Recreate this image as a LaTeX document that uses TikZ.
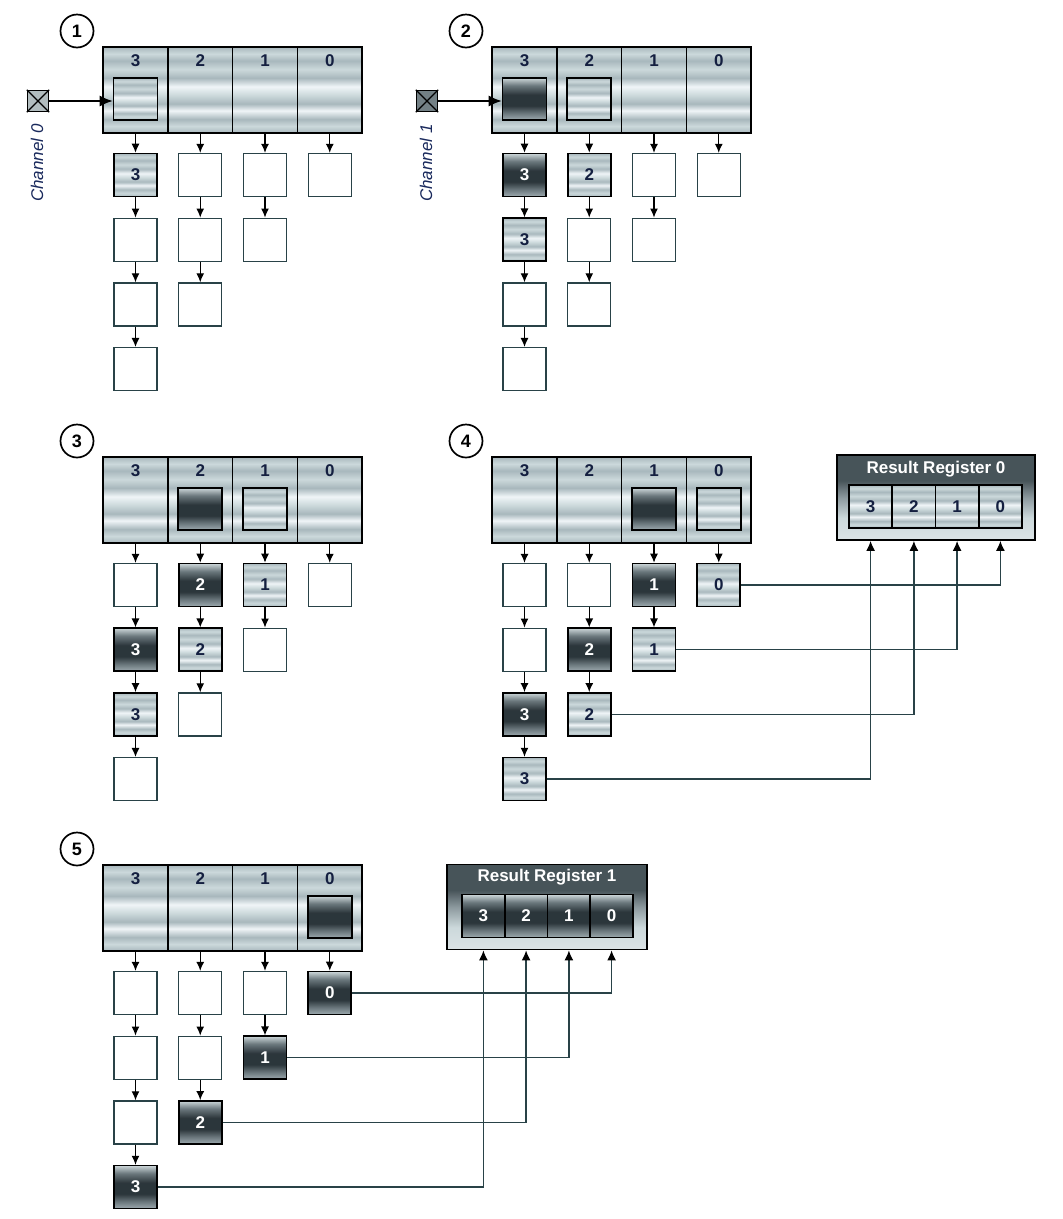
\documentclass[tikz,border=0pt]{standalone}
\usepackage{fontspec}
\setmainfont{Liberation Sans}
\usetikzlibrary{arrows.meta}
\definecolor{mA}{rgb}{0.66,0.72,0.74}
\definecolor{mB}{rgb}{0.80,0.85,0.86}
\definecolor{mC}{rgb}{0.94,0.96,0.97}
\definecolor{dA}{rgb}{0.62,0.67,0.69}
\definecolor{dB}{rgb}{0.17,0.21,0.23}
\definecolor{dM}{rgb}{0.42,0.47,0.49}
\definecolor{dC}{rgb}{0.80,0.84,0.85}
\definecolor{rT}{rgb}{0.28,0.33,0.35}
\definecolor{rM}{rgb}{0.55,0.60,0.62}
\definecolor{rL}{rgb}{0.86,0.89,0.90}
\definecolor{navy}{rgb}{0.08,0.12,0.25}
\definecolor{chanC}{rgb}{0.10,0.16,0.36}
\definecolor{lineC}{rgb}{0.16,0.26,0.28}
\definecolor{chanA}{rgb}{0.70,0.74,0.75}
\definecolor{chanB}{rgb}{0.45,0.50,0.52}
\pgfdeclareverticalshading{metal}{100bp}{color(0bp)=(mA); color(25bp)=(mA); color(29bp)=(mB); color(33bp)=(mA); color(38bp)=(mC); color(42bp)=(mA); color(47bp)=(mB); color(52bp)=(mC); color(57bp)=(mA); color(62bp)=(mB); color(67bp)=(mA); color(71bp)=(mB); color(75bp)=(mA); color(100bp)=(mA)}
\pgfdeclareverticalshading{darkmetal}{100bp}{color(0bp)=(dA); color(25bp)=(dA); color(33bp)=(dM); color(42bp)=(dB); color(55bp)=(dB); color(66bp)=(dM); color(75bp)=(dC); color(100bp)=(dC)}
\pgfdeclareverticalshading{regshade}{100bp}{color(0bp)=(rL); color(25bp)=(rL); color(38bp)=(mB); color(50bp)=(rM); color(60bp)=(rT); color(75bp)=(rT); color(100bp)=(rT)}
\newcommand\mkbank[1]{%
  \foreach \c in {3,2,1,0}{%
    \node[bankcol] (#1c\c) at ({135.5+(3-\c)*64.75},90) {};
    \node[banklbl] (#1l\c) at ({135.5+(3-\c)*64.75},61) {\c};
  }}
\newcommand\mkin[3]{\node[#3] (#1i#2) at ({135.5+(3-#2)*64.75},99) {};}
\newcommand\mkq[5]{%
  \node[#4] (#1q#2r#3) at ({135.5+(3-#2)*64.75},{175+(#3-1)*64.7}) {#5};
  \ifnum#3=1\relax \draw[arr] (#1c#2.south) -- (#1q#2r#3.north);
  \else\pgfmathtruncatemacro\prevr{#3-1}\draw[arr] (#1q#2r\prevr.south) -- (#1q#2r#3.north);\fi}
\begin{document}
\begin{tikzpicture}[x=1pt,y=-1pt,
  bankcol/.style={shade, shading=metal, draw=black, line width=1.6pt, minimum width=64.75pt, minimum height=86pt, inner sep=0pt, outer sep=0pt},
  banklbl/.style={text=navy, font=\fontsize{17}{17}\selectfont\bfseries, inner sep=0pt},
  innerlight/.style={shade, shading=metal, draw=black, line width=1.6pt, minimum width=44pt, minimum height=42pt, inner sep=0pt},
  innerdark/.style={innerlight, shading=darkmetal},
  qempty/.style={draw=lineC, line width=1.3pt, fill=white, minimum size=43pt, inner sep=0pt},
  qlight/.style={shade, shading=metal, draw=black, line width=1.6pt, minimum size=43pt, inner sep=0pt, text=navy, font=\fontsize{17}{17}\selectfont\bfseries},
  qdark/.style={qlight, shading=darkmetal, text=white},
  stepnum/.style={circle, draw=black, line width=1.7pt, fill=white, minimum size=33pt, inner sep=0pt, font=\fontsize{18}{18}\selectfont\bfseries},
  chanbox/.style={draw=black, line width=1.4pt, minimum size=21pt, inner sep=0pt},
  chantext/.style={rotate=90, font=\fontsize{17}{17}\selectfont\itshape, text=chanC, inner sep=0pt},
  arr/.style={draw=black, line width=1.2pt, -{Latex[length=9pt,width=8pt]}},
  chanarr/.style={draw=black, line width=1.6pt, -{Latex[length=13pt,width=11pt]}},
  conn/.style={draw=lineC, line width=1.3pt, -{Latex[length=10pt,width=9pt,color=black]}},
  regbox/.style={shade, shading=regshade, draw=black, line width=1.8pt, minimum width=198pt, minimum height=85pt, inner sep=0pt},
  regtitle/.style={text=white, font=\fontsize{17}{17}\selectfont\bfseries, inner sep=0pt},
  regcell/.style={qlight, minimum width=43.25pt, minimum height=43pt},
  regcelldark/.style={regcell, shading=darkmetal, text=white}
]
\useasboundingbox (0,0) rectangle (1063,1219);

% ---------- Panel 1
\begin{scope}
\node[stepnum] (an) at (77,31) {1};
\mkbank{a}
\mkin{a}{3}{innerlight}
\node[chanbox, fill=chanA] (ach) at (38,101) {};
\draw[line width=1.2pt] (ach.north west) -- (ach.south east) (ach.north east) -- (ach.south west);
\draw[chanarr] (ach.east) -- (ach.east -| ai3.west);
\node[chantext] (acht) at (37,163) {Channel 0};
\mkq{a}{3}{1}{qlight}{3}
\mkq{a}{3}{2}{qempty}{}
\mkq{a}{3}{3}{qempty}{}
\mkq{a}{3}{4}{qempty}{}
\mkq{a}{2}{1}{qempty}{}
\mkq{a}{2}{2}{qempty}{}
\mkq{a}{2}{3}{qempty}{}
\mkq{a}{1}{1}{qempty}{}
\mkq{a}{1}{2}{qempty}{}
\mkq{a}{0}{1}{qempty}{}
\end{scope}

% ---------- Panel 2
\begin{scope}[shift={(389,0)}]
\node[stepnum] (bn) at (77,31) {2};
\mkbank{b}
\mkin{b}{3}{innerdark}
\mkin{b}{2}{innerlight}
\node[chanbox, fill=chanB] (bch) at (38,101) {};
\draw[line width=1.2pt] (bch.north west) -- (bch.south east) (bch.north east) -- (bch.south west);
\draw[chanarr] (bch.east) -- (bch.east -| bi3.west);
\node[chantext] (bcht) at (37,163) {Channel 1};
\mkq{b}{3}{1}{qdark}{3}
\mkq{b}{3}{2}{qlight}{3}
\mkq{b}{3}{3}{qempty}{}
\mkq{b}{3}{4}{qempty}{}
\mkq{b}{2}{1}{qlight}{2}
\mkq{b}{2}{2}{qempty}{}
\mkq{b}{2}{3}{qempty}{}
\mkq{b}{1}{1}{qempty}{}
\mkq{b}{1}{2}{qempty}{}
\mkq{b}{0}{1}{qempty}{}
\end{scope}

% ---------- Panel 3
\begin{scope}[shift={(0,410)}]
\node[stepnum] (cn) at (77,31) {3};
\mkbank{c}
\mkin{c}{2}{innerdark}
\mkin{c}{1}{innerlight}
\mkq{c}{3}{1}{qempty}{}
\mkq{c}{3}{2}{qdark}{3}
\mkq{c}{3}{3}{qlight}{3}
\mkq{c}{3}{4}{qempty}{}
\mkq{c}{2}{1}{qdark}{2}
\mkq{c}{2}{2}{qlight}{2}
\mkq{c}{2}{3}{qempty}{}
\mkq{c}{1}{1}{qlight}{1}
\mkq{c}{1}{2}{qempty}{}
\mkq{c}{0}{1}{qempty}{}
\end{scope}

% ---------- Panel 4
\begin{scope}[shift={(389,410)}]
\node[stepnum] (dn) at (77,31) {4};
\mkbank{d}
\mkin{d}{1}{innerdark}
\mkin{d}{0}{innerlight}
\mkq{d}{3}{1}{qempty}{}
\mkq{d}{3}{2}{qempty}{}
\mkq{d}{3}{3}{qdark}{3}
\mkq{d}{3}{4}{qlight}{3}
\mkq{d}{2}{1}{qempty}{}
\mkq{d}{2}{2}{qdark}{2}
\mkq{d}{2}{3}{qlight}{2}
\mkq{d}{1}{1}{qdark}{1}
\mkq{d}{1}{2}{qlight}{1}
\mkq{d}{0}{1}{qlight}{0}
\end{scope}

% Result Register 0
\node[regbox] (rA) at (936,497.5) {};
\node[regtitle] (rAt) at (936,469) {Result Register 0};
\foreach \c/\x in {3/870.6,2/913.9,1/957.1,0/1000.4}
  \node[regcell] (rAc\c) at (\x,506.5) {\c};
\draw[conn] (dq0r1.east) -| (rAc0.center |- rA.south);
\draw[conn] (dq1r2.east) -| (rAc1.center |- rA.south);
\draw[conn] (dq2r3.east) -| (rAc2.center |- rA.south);
\draw[conn] (dq3r4.east) -| (rAc3.center |- rA.south);

% ---------- Panel 5
\begin{scope}[shift={(0,818)}]
\node[stepnum] (en) at (77,31) {5};
\mkbank{e}
\mkin{e}{0}{innerdark}
\mkq{e}{3}{1}{qempty}{}
\mkq{e}{3}{2}{qempty}{}
\mkq{e}{3}{3}{qempty}{}
\mkq{e}{3}{4}{qdark}{3}
\mkq{e}{2}{1}{qempty}{}
\mkq{e}{2}{2}{qempty}{}
\mkq{e}{2}{3}{qdark}{2}
\mkq{e}{1}{1}{qempty}{}
\mkq{e}{1}{2}{qdark}{1}
\mkq{e}{0}{1}{qdark}{0}
\end{scope}

% Result Register 1
\node[regbox, minimum width=200pt] (rB) at (547,907) {};
\node[regtitle] (rBt) at (547,877) {Result Register 1};
\foreach \c/\x in {3/483.4,2/526.1,1/568.9,0/611.6}
  \node[regcelldark, minimum width=42.75pt] (rBc\c) at (\x,916) {\c};
\draw[conn] (eq0r1.east) -| (rBc0.center |- rB.south);
\draw[conn] (eq1r2.east) -| (rBc1.center |- rB.south);
\draw[conn] (eq2r3.east) -| (rBc2.center |- rB.south);
\draw[conn] (eq3r4.east) -| (rBc3.center |- rB.south);
\end{tikzpicture}
\end{document}
